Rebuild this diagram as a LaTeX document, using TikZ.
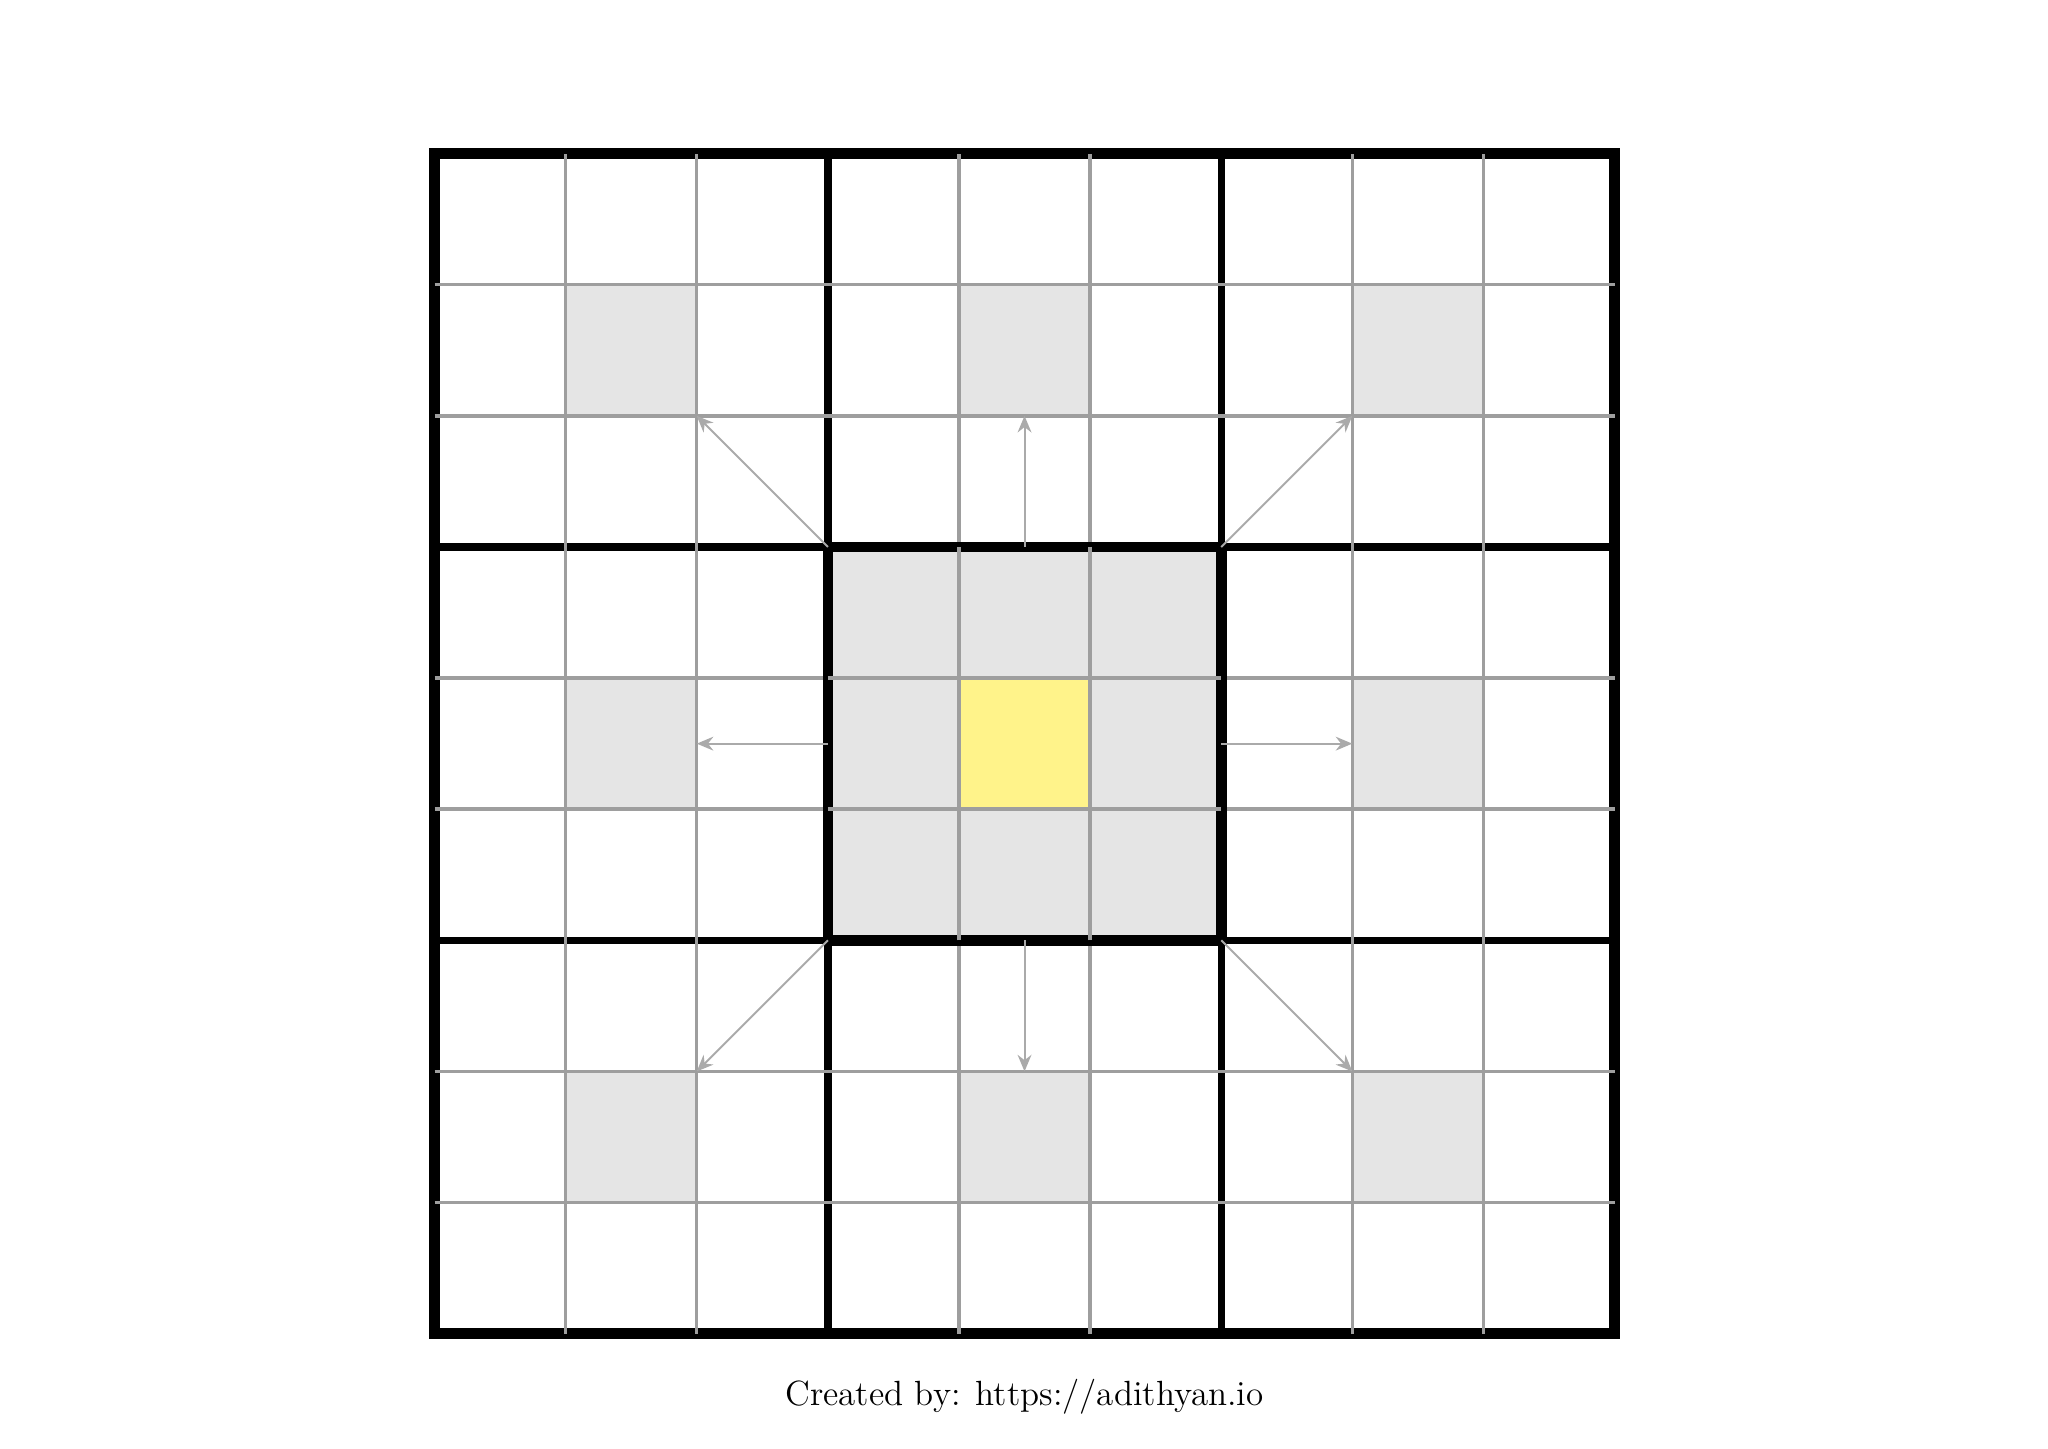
\documentclass[tikz,border=0pt]{standalone}
\usetikzlibrary{arrows.meta}
\definecolor{cellshade}{RGB}{229,229,229}
\definecolor{gridgray}{RGB}{158,158,158}
\definecolor{arrowgray}{RGB}{170,170,170}
\definecolor{hilite}{RGB}{255,243,138}
\tikzset{
  shadecell/.style={fill=cellshade, draw=none},
  majorline/.style={draw=black, line width=1.6pt},
  outerframe/.style={draw=black, line width=2.3pt},
  minorline/.style={draw=gridgray, line width=0.75pt},
  neighbour/.style={draw=arrowgray, line width=0.42pt, -{Stealth[length=3.6pt,width=3pt]}},
}
\begin{document}
\begin{tikzpicture}[x=1cm,y=1cm]
\useasboundingbox (-3.314,-0.874) rectangle (12.306,10.172);
% shaded neighbour cells
\foreach \cx/\cy in {1/7,4/7,7/7,1/4,7/4,1/1,4/1,7/1}
  \fill[shadecell] (\cx,\cy) rectangle ++(1,1);
% major lines
\foreach \k in {3,6} {
  \draw[majorline] (\k,0) -- (\k,9);
  \draw[majorline] (0,\k) -- (9,\k);
}
% outer frame
\draw[outerframe] (0,0) rectangle (9,9);
% minor grid lines
\foreach \k in {1,2,4,5,7,8} {
  \draw[minorline] (\k,0) -- (\k,9);
  \draw[minorline] (0,\k) -- (9,\k);
}
% centre block
\fill[cellshade] (3,3) rectangle (6,6);
\draw[outerframe] (3,3) rectangle (6,6);
\fill[hilite] (4,4) rectangle (5,5);
\foreach \k in {4,5} {
  \draw[minorline] (\k,3) -- (\k,6);
  \draw[minorline] (3,\k) -- (6,\k);
}
% coordinates for connectors
\coordinate (tl) at (3,6);   \coordinate (tlT) at (2,7);
\coordinate (tc) at (4.5,6); \coordinate (tcT) at (4.5,7);
\coordinate (tr) at (6,6);   \coordinate (trT) at (7,7);
\coordinate (ml) at (3,4.5); \coordinate (mlT) at (2,4.5);
\coordinate (mr) at (6,4.5); \coordinate (mrT) at (7,4.5);
\coordinate (bl) at (3,3);   \coordinate (blT) at (2,2);
\coordinate (bc) at (4.5,3); \coordinate (bcT) at (4.5,2);
\coordinate (br) at (6,3);   \coordinate (brT) at (7,2);
\foreach \s in {tl,tc,tr,ml,mr,bl,bc,br}
  \draw[neighbour] (\s) -- (\s T);
% caption
\node[anchor=base, inner sep=0pt, scale=0.633, font=\fontsize{12}{14}\selectfont] (credit) at (4.5,-0.545) {Created by: https://adithyan.io};
\end{tikzpicture}
\end{document}
